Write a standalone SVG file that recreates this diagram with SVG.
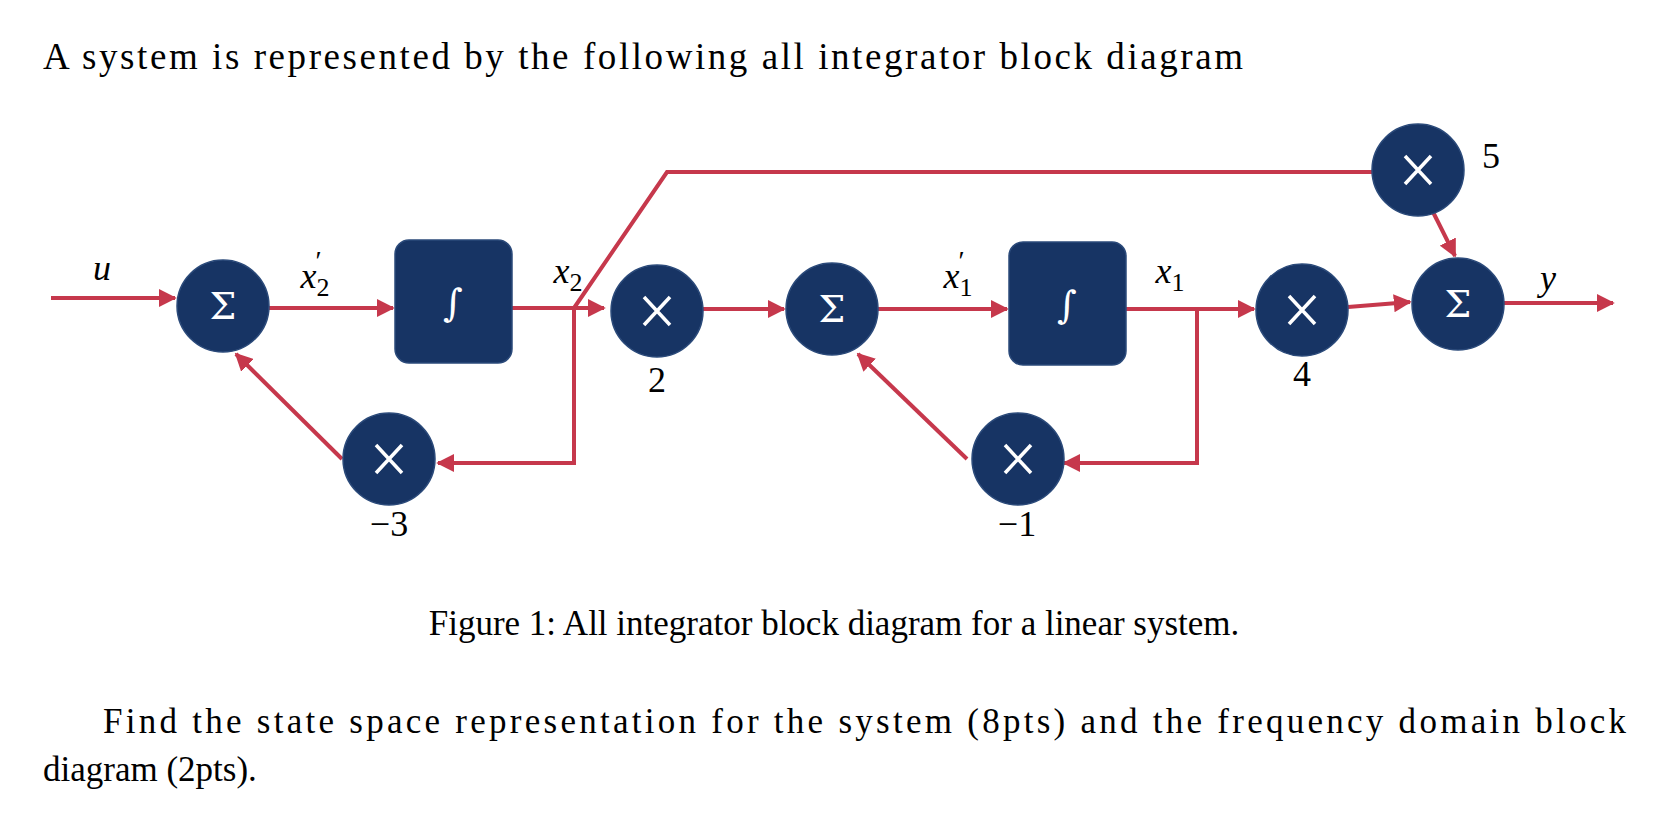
<svg xmlns="http://www.w3.org/2000/svg" width="1666" height="838" viewBox="0 0 1666 838">
<style>
.t{font-family:"Liberation Serif",serif;fill:#000}
.n{fill:#173464;stroke:#2b4a7a;stroke-width:1.5}
.sym{font-family:"DejaVu Serif","Liberation Serif",serif;fill:#fff;font-size:38px;text-anchor:middle}
.x{stroke:#fff;stroke-width:3.5;fill:none}
.c{stroke:#c6384c;stroke-width:4;fill:none}
.lab{font-family:"Liberation Serif",serif;font-size:36px;text-anchor:middle}
.it{font-style:italic}
</style>
<defs>
<marker id="a" viewBox="0 0 10 10" refX="9" refY="5" markerWidth="4.5" markerHeight="4.5" orient="auto" markerUnits="strokeWidth"><path d="M0,0L10,5L0,10z" fill="#c6384c"/></marker>
<g id="mul"><ellipse class="n" rx="46" ry="46"/><path class="x" d="M-13,-14L13,14M13,-14L-13,14"/></g>
<g id="sum"><ellipse class="n" rx="46" ry="46"/><text class="sym" y="13">Σ</text></g>
</defs>
<rect width="1666" height="838" fill="#fff"/>
<text class="t" x="43" y="69" font-size="37" textLength="1200" lengthAdjust="spacing">A system is represented by the following all integrator block diagram</text>

<g id="connectors">
<path class="c" d="M51,298H175" marker-end="url(#a)"/>
<path class="c" d="M269,308H393" marker-end="url(#a)"/>
<path class="c" d="M512,308H604" marker-end="url(#a)"/>
<path class="c" d="M574,308L667,172H1374"/>
<path class="c" d="M574,308V463H438" marker-end="url(#a)"/>
<path class="c" d="M342,459L236,354" marker-end="url(#a)"/>
<path class="c" d="M703,309H784" marker-end="url(#a)"/>
<path class="c" d="M878,309H1007" marker-end="url(#a)"/>
<path class="c" d="M1126,309H1254" marker-end="url(#a)"/>
<path class="c" d="M1197,309V463H1064" marker-end="url(#a)"/>
<path class="c" d="M967,459L858,354" marker-end="url(#a)"/>
<path class="c" d="M1348,307L1410,302" marker-end="url(#a)"/>
<path class="c" d="M1433,212L1455,256" marker-end="url(#a)"/>
<path class="c" d="M1504,303H1613" marker-end="url(#a)"/>
</g>

<g id="sum1"><use href="#sum" x="223" y="306"/></g>
<g id="int1"><rect class="n" x="395" y="240" width="117" height="123" rx="14"/><text class="sym" x="453" y="316" font-size="34">∫</text></g>
<g id="mul2"><use href="#mul" x="657" y="311"/></g>
<g id="mulm3"><use href="#mul" x="389" y="459"/></g>
<g id="sum2"><use href="#sum" x="832" y="309"/></g>
<g id="int2"><rect class="n" x="1009" y="242" width="117" height="123" rx="14"/><text class="sym" x="1067" y="318" font-size="34">∫</text></g>
<g id="mulm1"><use href="#mul" x="1018" y="459"/></g>
<g id="mul4"><use href="#mul" x="1302" y="310"/></g>
<g id="mul5"><use href="#mul" x="1418" y="170"/></g>
<g id="sum3"><use href="#sum" x="1458" y="304"/></g>

<g id="labels">
<text class="t lab it" x="102" y="280">u</text>
<text class="t lab it" x="315" y="288">x<tspan font-size="26" font-style="normal" dy="8">2</tspan><tspan font-style="normal" dx="-14" dy="-26" font-size="28">′</tspan></text>
<text class="t lab it" x="568" y="283">x<tspan font-size="26" font-style="normal" dy="8">2</tspan></text>
<text class="t lab" x="657" y="392">2</text>
<text class="t lab" x="389" y="536">−3</text>
<text class="t lab it" x="958" y="288">x<tspan font-size="26" font-style="normal" dy="8">1</tspan><tspan font-style="normal" dx="-14" dy="-26" font-size="28">′</tspan></text>
<text class="t lab it" x="1170" y="283">x<tspan font-size="26" font-style="normal" dy="8">1</tspan></text>
<text class="t lab" x="1017" y="536">−1</text>
<text class="t lab" x="1302" y="386">4</text>
<text class="t lab" x="1491" y="168">5</text>
<text class="t lab it" x="1548" y="290">y</text>
</g>

<text class="t" x="834" y="635" font-size="35" text-anchor="middle">Figure 1:  All integrator block diagram for a linear system.</text>
<text class="t" x="103" y="733" font-size="35" textLength="1523" lengthAdjust="spacing">Find the state space representation for the system (8pts) and the frequency domain block</text>
<text class="t" x="43" y="781" font-size="35">diagram (2pts).</text>
</svg>
